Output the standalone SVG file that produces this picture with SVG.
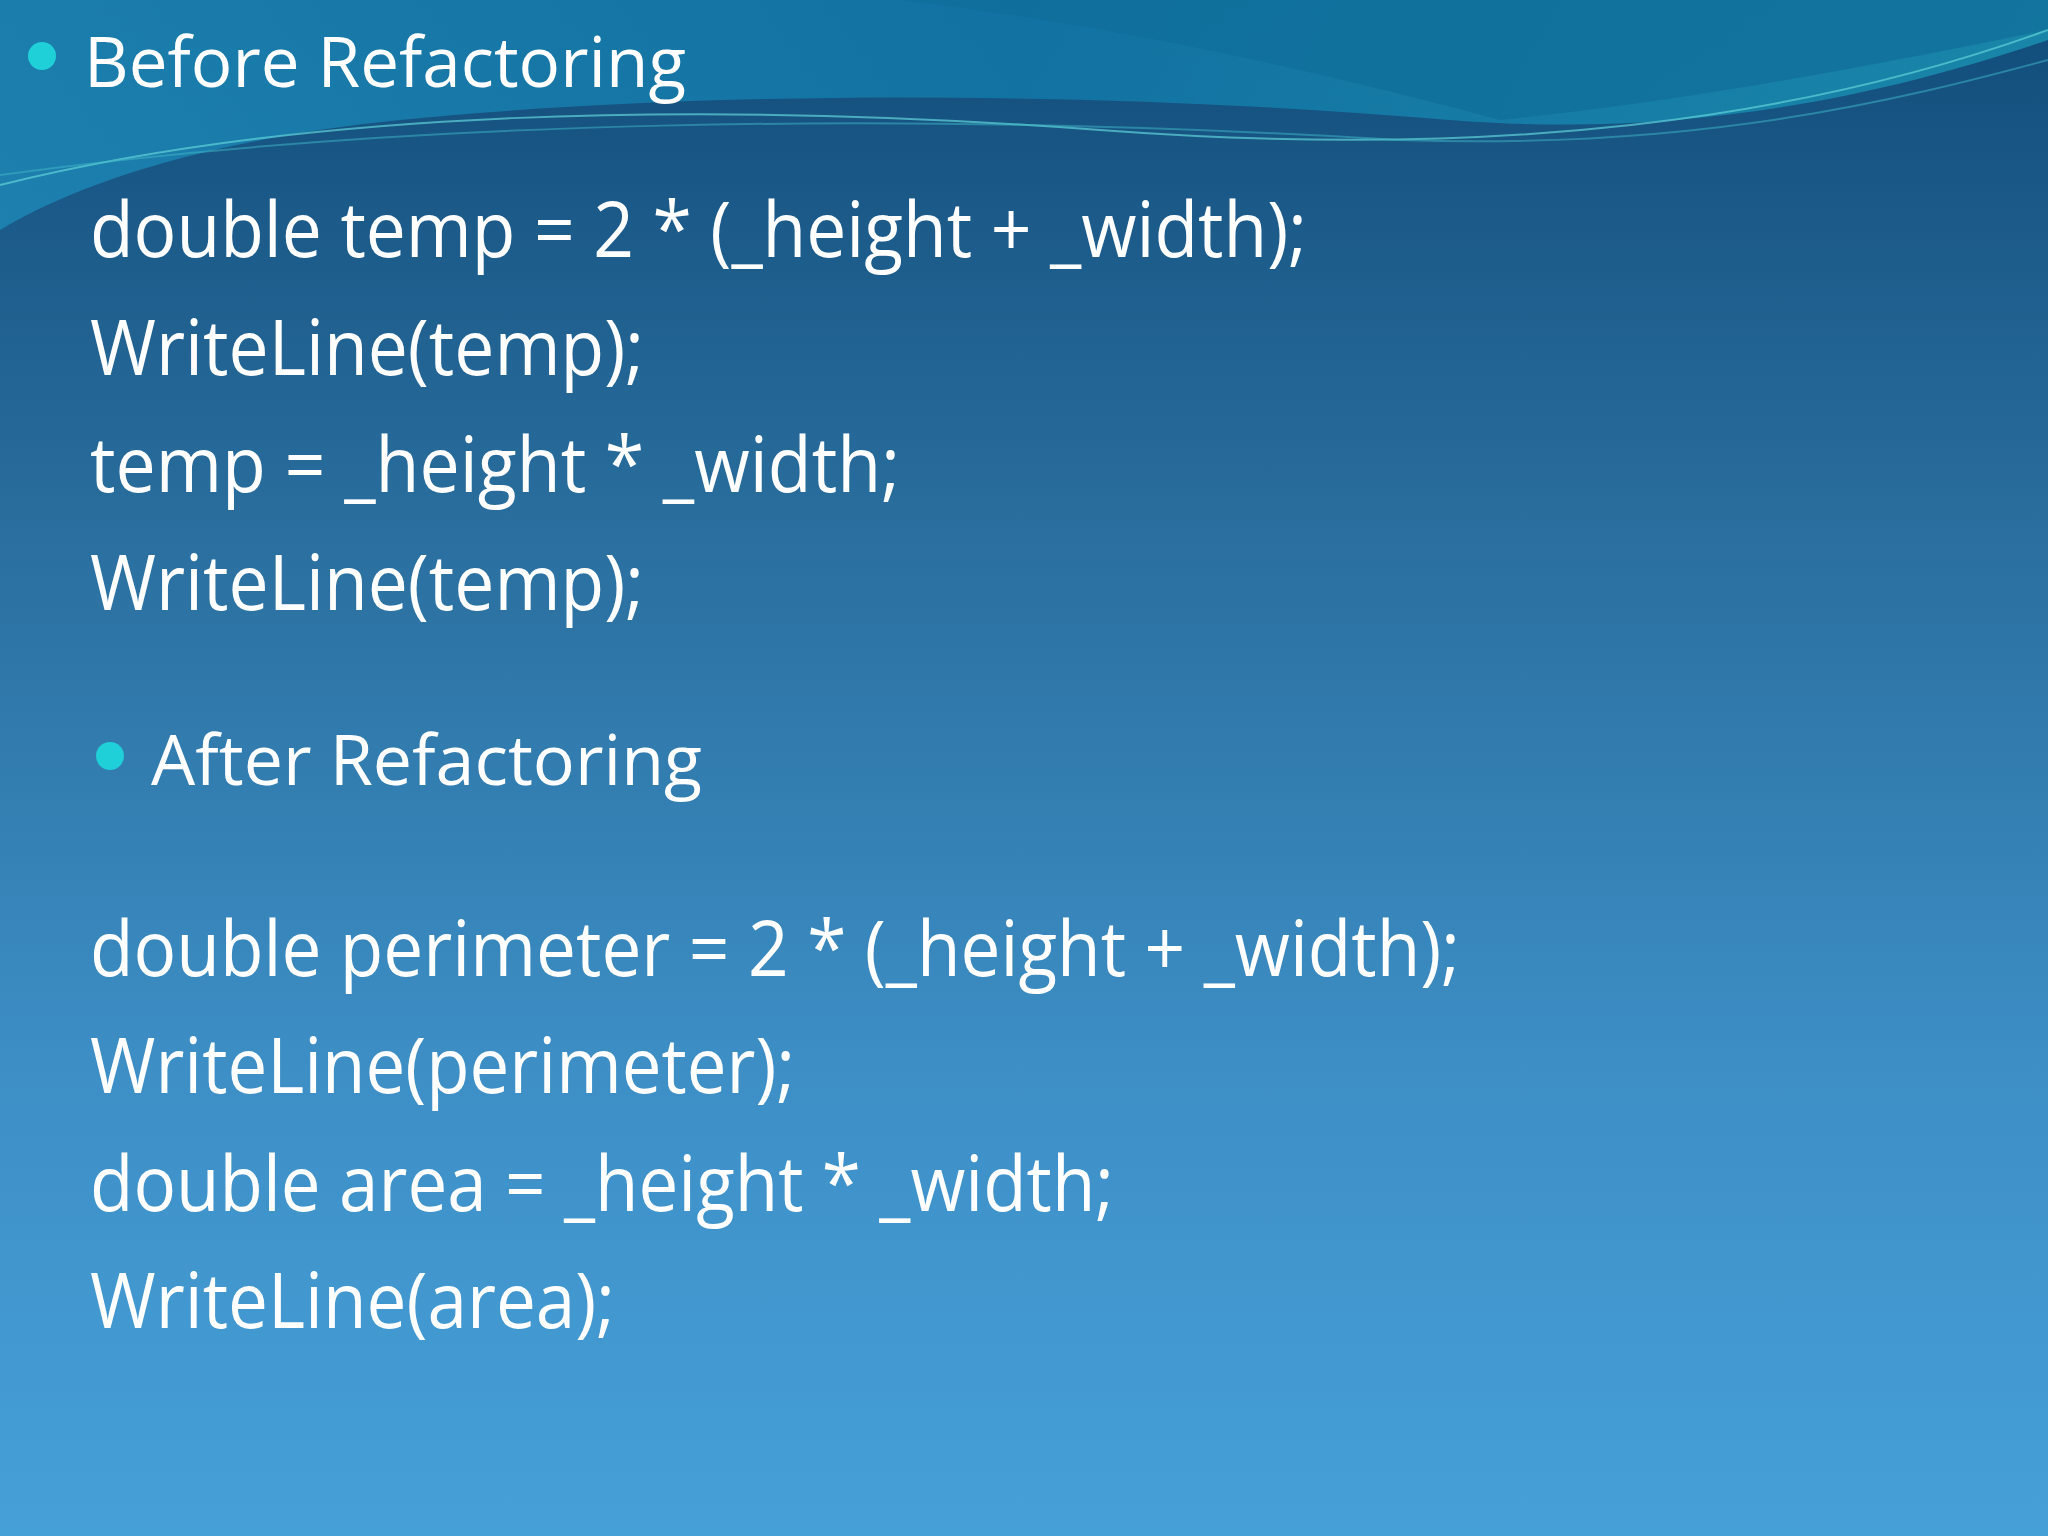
<svg xmlns="http://www.w3.org/2000/svg" width="2048" height="1536" viewBox="0 0 2048 1536">
<defs>
<linearGradient id="bg" x1="0" y1="0" x2="0" y2="1">
<stop offset="0" stop-color="#114c7a"/>
<stop offset="0.35" stop-color="#2a6f9f"/>
<stop offset="0.7" stop-color="#3d8fc6"/>
<stop offset="1" stop-color="#46a0d8"/>
</linearGradient>
<linearGradient id="wave" x1="0" y1="0" x2="1" y2="0">
<stop offset="0" stop-color="#1d86b4"/>
<stop offset="0.5" stop-color="#1278a8"/>
<stop offset="1" stop-color="#1a8fb0"/>
</linearGradient>
<style>
.t{font-family:"Open Sans","Liberation Sans",sans-serif;fill:#ffffff}
.h{font-size:70px}
.c{font-size:76px}
.dot{fill:#1fd0d8}
</style>
</defs>
<rect width="2048" height="1536" fill="url(#bg)"/>
<g id="waves">
<path d="M0 0 H2048 V40 C1900 90 1700 140 1450 120 C1100 90 700 90 400 120 C250 135 100 170 0 230 Z" fill="url(#wave)" opacity="0.85"/>
<path d="M900 0 H2048 V30 C1900 60 1700 100 1500 120 C1350 80 1150 30 900 0 Z" fill="#0f6d9a" opacity="0.7"/>
<path d="M0 185 C300 110 700 100 1100 130 C1500 160 1800 120 2048 30" fill="none" stroke="#5fd3d8" stroke-width="2" opacity="0.7"/>
<path d="M0 175 C400 120 900 110 1400 140 C1700 150 1900 100 2048 60" fill="none" stroke="#40b8c8" stroke-width="2" opacity="0.5"/>
</g>
<g id="before">
<circle class="dot" cx="42" cy="56" r="14"/>
<text class="t h" x="84" y="87" textLength="602" lengthAdjust="spacingAndGlyphs">Before Refactoring</text>
<text class="t c" x="90" y="257" textLength="1217" lengthAdjust="spacingAndGlyphs">double temp = 2 * (_height + _width);</text>
<text class="t c" x="90" y="375" textLength="554" lengthAdjust="spacingAndGlyphs">WriteLine(temp);</text>
<text class="t c" x="90" y="492" textLength="810" lengthAdjust="spacingAndGlyphs">temp = _height * _width;</text>
<text class="t c" x="90" y="610" textLength="554" lengthAdjust="spacingAndGlyphs">WriteLine(temp);</text>
</g>
<g id="after">
<circle class="dot" cx="110" cy="756" r="14"/>
<text class="t h" x="151" y="785" textLength="551" lengthAdjust="spacingAndGlyphs">After Refactoring</text>
<text class="t c" x="90" y="976" textLength="1370" lengthAdjust="spacingAndGlyphs">double perimeter = 2 * (_height + _width);</text>
<text class="t c" x="90" y="1093" textLength="705" lengthAdjust="spacingAndGlyphs">WriteLine(perimeter);</text>
<text class="t c" x="90" y="1211" textLength="1024" lengthAdjust="spacingAndGlyphs">double area = _height * _width;</text>
<text class="t c" x="90" y="1328" textLength="525" lengthAdjust="spacingAndGlyphs">WriteLine(area);</text>
</g>
<g id="connectors"/>
</svg>
